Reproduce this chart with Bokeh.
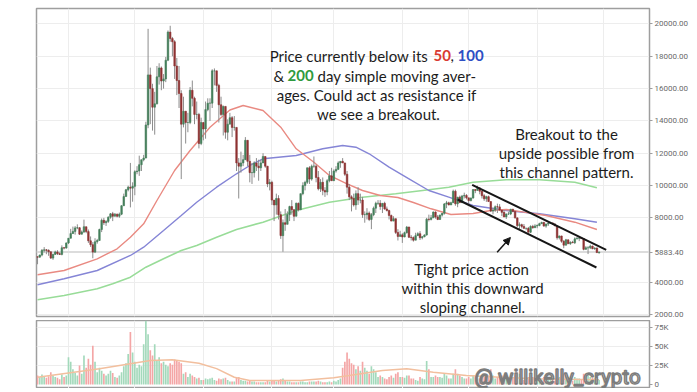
import pandas as pd
from bokeh.plotting import figure
from bokeh.layouts import column
from bokeh.models import (Range1d, FixedTicker, NumeralTickFormatter, Label, Span,
                          Arrow, NormalHead, ColumnDataSource)
from bokeh.embed import file_html
from bokeh.resources import INLINE

# ---------------- data (COINBASE:BTCUSD, 1D) ----------------
dates = pd.date_range("2017-10-18", "2018-06-29", freq="D")

opens = [
    5590,5570,5700,5990,6020,5990,5900,5510,5740,5890,5780,5740,6150,6130,
    6450,6740,7030,7160,7380,7390,6990,7130,7450,7150,6580,6340,5880,6520,6600,7280,7850,7700,7780,8040,8250,8100,8230,8100,8230,8750,9320,9740,9900,9840,
    9950,10860,10900,11290,11600,11700,13750,16850,16000,14850,15060,16730,17280,16470,16600,17760,19500,19100,18900,17400,16500,15700,13800,14600,13900,13900,15900,15400,14400,14400,12600,
    13900,13500,14700,15100,15100,17100,17100,16200,15000,14400,14900,13300,13800,14200,13600,13600,11400,11200,11400,11600,12800,11500,10800,10800,11400,11200,11100,11400,11800,11200,10100,
    10200,9100,8800,9200,8200,6900,7700,7600,8200,8700,8500,8100,8900,8500,9500,10000,10200,11100,10400,11200,11200,10500,9800,10200,9700,9600,10300,10600,
    10300,10900,11000,11400,11500,11400,10700,9900,9300,9200,8800,9500,9100,9100,8200,8200,8300,7900,8200,8600,8900,8900,8700,8900,8550,8450,8150,7800,7950,7100,6850,
    6950,6820,7080,7430,6800,6780,6620,6900,7020,6770,6830,6940,7920,7900,8000,8360,8060,7900,8170,8280,8860,8930,8800,8940,9650,8870,9280,8940,9350,9390,
    9240,9070,9230,9750,9700,9850,9650,9370,9180,9310,9010,8420,8480,8690,8680,8480,8340,8060,8240,8240,8530,8400,8000,7520,7580,7470,7350,7350,7110,7470,7390,
    7500,7530,7640,7720,7490,7620,7660,7690,7620,7500,6770,6880,6550,6310,6640,6400,6490,6460,6700,6740,6760,6720,6050,6150,6150,6250,6090,6130,5836.25,
]
highs = [
    5610,5720,6070,6190,6070,6050,5910,5780,5970,6000,5870,6300,6200,6470,
    6750,7320,7460,7490,7600,7420,7220,7890,7450,7280,6850,6500,6740,6700,7330,7960,8000,7850,8100,8300,8370,8300,8260,8330,8780,9500,9790,9990,11400,10200,
    10950,11200,11850,11600,11900,13950,19700,17300,16300,15800,17400,17570,17370,16900,17960,19600,19890,19200,19000,17900,17400,15900,15500,14600,14500,16100,16500,15500,15200,14500,14200,
    13900,15200,15400,15400,17200,17250,17100,16300,15500,14950,14900,14100,14500,14300,14300,13600,11700,12100,11900,13000,12800,11900,11400,11500,11700,11600,11600,12000,11800,11200,10400,
    10300,9100,9500,9400,8400,7900,8550,8400,8750,9100,8550,8950,8950,9500,10200,10300,11100,11200,11300,11800,11300,10900,10400,10500,9900,10400,10900,11100,
    11000,11200,11500,11500,11700,11400,10900,10100,9400,9500,9700,9900,9500,9300,8400,8600,8400,8300,8700,9000,9100,9100,8900,9000,8700,8500,8200,8100,7950,7300,7200,
    7050,7150,7500,7450,6930,6850,7080,7110,7180,6880,6980,8000,8200,8180,8400,8400,8180,8200,8300,8920,9050,9000,9000,9750,9750,9300,9380,9420,9560,9470,
    9240,9250,9780,9760,9990,9900,9680,9470,9370,9380,9010,8640,8770,8880,8850,8480,8480,8270,8380,8560,8560,8400,8000,7720,7640,7620,7390,7440,7540,7570,7610,
    7600,7700,7760,7750,7640,7700,7750,7700,7680,7500,6900,6890,6620,6700,6650,6550,6580,6800,6820,6800,6790,6730,6250,6250,6340,6280,6190,6170,5905.74,
]
lows = [
    5130,5540,5620,5860,5750,5650,5460,5400,5710,5700,5700,5680,6050,6100,
    6380,6730,7000,6960,7300,6940,6980,7060,7050,6450,6200,5500,5820,6400,6590,7120,7560,7500,7690,7950,7800,8100,8030,8000,8170,8750,9320,9640,8650,9000,
    9400,10700,10600,10900,11500,11700,13550,13800,13400,13150,15020,16250,15900,16000,16400,17700,18900,18000,16600,15600,14800,10400,13600,12600,13300,13800,14900,13800,14100,12300,12500,
    12800,12900,14600,14000,14800,16200,15800,13900,14300,13100,12900,12800,13800,13000,13400,10900,9200,10800,11200,11600,11200,10200,10100,10500,10900,10300,10900,11400,11100,9900,9700,
    8800,7800,8200,7900,6700,5900,7200,7600,7800,8200,7800,8100,8400,8500,9400,9700,10100,10100,10300,11100,10200,9700,9600,9400,9300,9400,10200,10300,
    10300,10800,11000,11100,11400,10600,9500,9100,8400,8700,8500,8800,8900,8000,7700,7900,7800,7300,8100,8300,8800,8500,8300,8500,8400,7900,7800,7800,7000,6600,6850,
    6450,6800,7030,6750,6600,6530,6620,6900,6630,6670,6800,6900,7780,7840,8000,7950,7860,7880,8080,8200,8600,8780,8800,8930,8750,8660,8930,8920,9200,9140,
    8840,9020,9190,9530,9700,9460,9200,9050,8990,8990,8360,8220,8370,8300,8450,8110,8050,7930,8180,8170,8340,7960,7430,7270,7350,7320,7240,7100,7060,7330,7380,
    7360,7480,7640,7460,7390,7500,7640,7560,7500,6650,6660,6460,6120,6300,6400,6330,6440,6380,6670,6560,6690,5990,6030,5760,6070,6060,6020,5830,5790.01,
]
closes = [
    5570,5700,5990,6020,5990,5900,5510,5740,5890,5780,5740,6150,6130,6450,
    6740,7030,7160,7380,7390,6990,7130,7450,7150,6580,6340,5880,6520,6600,7280,7850,7700,7780,8040,8250,8100,8230,8100,8230,8750,9320,9740,9900,9840,9950,
    10860,10900,11290,11600,11700,13750,16850,16000,14850,15060,16730,17280,16470,16600,17760,19500,19100,18900,17400,16500,15700,13800,14600,13900,13900,15900,15400,14400,14400,12600,13900,
    13500,14700,15100,15100,17100,17100,16200,15000,14400,14900,13300,13800,14200,13600,13600,11400,11200,11400,11600,12800,11500,10800,10800,11400,11200,11100,11400,11800,11200,10100,10200,
    9100,8800,9200,8200,6900,7700,7600,8200,8700,8500,8100,8900,8500,9500,10000,10200,11100,10400,11200,11200,10500,9800,10200,9700,9600,10300,10600,10300,
    10900,11000,11400,11500,11400,10700,9900,9300,9200,8800,9500,9100,9100,8200,8200,8300,7900,8200,8600,8900,8900,8700,8900,8550,8450,8150,7800,7950,7100,6850,6950,
    6820,7080,7430,6800,6780,6620,6900,7020,6770,6830,6940,7920,7900,8000,8360,8060,7900,8170,8280,8860,8930,8800,8940,9650,8870,9280,8940,9350,9390,9240,
    9070,9230,9750,9700,9850,9650,9370,9180,9310,9010,8420,8480,8690,8680,8480,8340,8060,8240,8240,8530,8400,8000,7520,7580,7470,7350,7350,7110,7470,7390,7500,
    7530,7640,7720,7490,7620,7660,7690,7620,7500,6770,6880,6550,6310,6640,6400,6490,6460,6700,6740,6760,6720,6050,6150,6150,6250,6090,6130,5850,5883.40,
]
# daily volume, thousands of BTC
volume_k = [
    12,10,13,11,9,11,16,12,10,9,7,13,10,12,
    36,30,20,15,12,25,14,38,22,34,26,51,30,16,22,18,14,12,14,18,15,10,9,12,16,24,28,40,69,42,
    30,22,26,24,53,84,66,45,38,53,32,36,28,30,26,24,28,26,33,31,30,28,14,16,10,14,12,10,8,9,6,
    6,8,7,8,9,6,5,8,7,8,9,6,4,4,4,9,10,6,5,5,4,5,4,4,3,3,3,3,3,5,4,
    6,5,4,5,7,8,5,4,4,3,3,3,3,4,4,3,3,4,4,4,4,5,4,3,3,3,4,3,
    5,4,6,8,22,30,42,34,28,26,20,24,18,30,22,18,14,24,20,16,10,12,10,8,7,10,12,9,14,16,10,
    10,9,12,12,8,8,6,5,10,8,7,31,20,10,10,12,10,10,9,14,12,8,8,14,20,14,12,10,8,8,
    10,8,12,10,8,8,12,12,10,12,20,12,8,10,10,12,10,10,6,8,10,12,16,14,8,6,5,10,10,10,9,
    8,6,6,10,8,8,8,6,5,16,10,12,14,12,10,6,5,10,8,8,6,14,10,12,10,9,8,10,6,
]

# simple moving averages
ma50_dates = ["2017-10-18","2017-10-30","2017-11-14","2017-11-23","2017-11-29","2017-12-05","2017-12-11",
              "2017-12-19","2017-12-26","2018-01-04","2018-01-13","2018-01-19","2018-01-28","2018-02-05",
              "2018-02-12","2018-02-20","2018-02-27","2018-03-07","2018-03-14","2018-03-22","2018-03-30",
              "2018-04-06","2018-04-14","2018-04-23","2018-05-03","2018-05-11","2018-05-18","2018-05-26",
              "2018-06-05","2018-06-18","2018-06-28"]
ma50_values = [4476,4743,5467,6086,6804,7633,9075,10932,12170,13612,14677,14955,14646,13612,
               12275,11446,10623,10109,9694,9385,9261,8951,8562,8209,8271,8456,8519,8352,8147,7732,7280]
ma100_dates = ["2017-10-18","2017-10-30","2017-11-14","2017-11-29","2017-12-05","2017-12-14","2017-12-22",
               "2017-12-29","2018-01-07","2018-01-16","2018-01-22","2018-01-28","2018-02-12","2018-02-24",
               "2018-03-05","2018-03-11","2018-03-17","2018-03-26","2018-04-04","2018-04-13","2018-04-22",
               "2018-05-03","2018-05-18","2018-06-02","2018-06-18","2018-06-28"]
ma100_values = [3857,4229,4743,5672,6185,7219,8147,8970,9898,10728,11242,11657,11861,12276,
                12480,12375,11966,11136,10418,9694,9280,8766,8456,8252,7942,7732]
ma200_dates = ["2017-10-18","2017-10-30","2017-11-14","2017-11-21","2017-11-29","2017-12-06","2017-12-14",
               "2017-12-22","2017-12-29","2018-01-07","2018-01-16","2018-01-28","2018-02-12","2018-02-27",
               "2018-03-14","2018-03-29","2018-04-13","2018-04-22","2018-05-03","2018-05-18","2018-06-02",
               "2018-06-18","2018-06-28"]
ma200_values = [2929,3195,3610,3919,4328,4947,5467,5981,6291,6804,7280,7732,8456,8970,
                9280,9490,9738,9899,10208,10357,10357,10208,9861]
vol_ma_dates = ["2017-10-18","2017-11-15","2017-12-08","2017-12-18","2017-12-30","2018-01-07","2018-01-15",
                "2018-01-22","2018-02-14","2018-03-01","2018-03-08","2018-03-23","2018-04-03","2018-04-15",
                "2018-04-30","2018-05-30","2018-06-29"]
vol_ma_values = [9.6,20.6,31.6,32.5,28,20.9,9.6,5.3,5.3,8.8,11.8,18.4,20.7,16.2,11.8,7.5,6.2]

# channel trend lines and arrow (date, price)
chan_upper_dates = ["2018-05-02 14:00", "2018-07-02 05:00"]
chan_upper_prices = [10047, 6023]
chan_lower_dates = ["2018-04-26 00:00", "2018-06-27 19:00"]
chan_lower_prices = [9137, 4928]
arrow_dates = ["2018-05-13 21:00", "2018-05-19 21:00"]
arrow_prices = [5867, 6785]

price_ticks = [2000, 4000, 8000, 10000, 12000, 14000, 16000, 18000, 20000]
vol_ticks = [0, 25, 50, 75]
month_starts = ["2017-11-01","2017-12-01","2018-01-01","2018-02-01","2018-03-01",
                "2018-04-01","2018-05-01","2018-06-01","2018-07-01"]

# ---------------- layout / style ----------------
BL, FW = 36, 613           # left border, frame width
TOP, PH, PB = 8, 308, 4    # top border, price frame height, price bottom border
VH = 68                    # volume frame height
P_LO, P_HI = 1895, 20959
V_LO, V_HI = -5.26, 84.21
x_start = pd.Timestamp("2017-10-17 12:43")
x_end = pd.Timestamp("2018-07-21 19:00")
DAY = 86400000

UP, DOWN, WICK = "#447f5b", "#8f3333", "#8c8c8c"
VUP, VDOWN = "#a3d9bb", "#f4a6a6"
GRID = "#ededed"
FRAME = "#9e9e9e"
FONT = "Lato"
TXT = "#1c1c1c"


def ms(t):
    return pd.Timestamp(t).timestamp() * 1000.0


def px_x(px):  # canvas pixel -> x data (ms)
    return ms(x_start) + (px - BL) / FW * (ms(x_end) - ms(x_start))


def py_price(py):  # canvas pixel -> price
    return P_HI - (py - TOP) / PH * (P_HI - P_LO)


def py_vol(py):
    return V_HI - (py - TOP - PH - PB) / VH * (V_HI - V_LO)


def style_axis(ax):
    ax.major_label_text_font = "Roboto"
    ax.major_label_text_font_size = "8px"
    ax.major_label_text_color = "#6a6a6a"
    ax.major_tick_out = 3
    ax.major_tick_in = 0
    ax.major_label_standoff = 2
    ax.minor_tick_line_color = None
    ax.axis_line_color = FRAME
    ax.major_tick_line_color = FRAME


xr = Range1d(x_start, x_end)

p = figure(frame_width=FW, frame_height=PH, x_axis_type="datetime", x_axis_location=None,
           y_axis_location="right", x_range=xr, y_range=Range1d(P_LO, P_HI),
           output_backend="svg", toolbar_location=None,
           min_border_left=BL, min_border_right=0, min_border_top=TOP, min_border_bottom=PB)
p.background_fill_color = "white"
p.border_fill_color = "white"
p.outline_line_color = FRAME
p.outline_line_width = 1.5
p.xgrid.ticker = FixedTicker(ticks=[ms(m) for m in month_starts])
p.ygrid.ticker = FixedTicker(ticks=price_ticks)
p.xgrid.grid_line_color = GRID
p.ygrid.grid_line_color = GRID
ax = p.yaxis[0]
ax.ticker = FixedTicker(ticks=price_ticks + [closes[-1]])
ax.formatter = NumeralTickFormatter(format="0.00")
ax.major_label_overrides = {closes[-1]: f"{closes[-1]:.2f}"}
style_axis(ax)

p.add_layout(Span(location=closes[-1], dimension="width", line_color="#dcdcdc",
                  line_width=2, level="underlay"))

src = ColumnDataSource(dict(
    date=dates, open=opens, high=highs, low=lows, close=closes,
    top=[max(o, c) for o, c in zip(opens, closes)],
    bottom=[min(o, c) for o, c in zip(opens, closes)],
    color=[UP if c >= o else DOWN for o, c in zip(opens, closes)],
    vcolor=[VUP if c >= o else VDOWN for o, c in zip(opens, closes)],
    vol=volume_k,
))

p.line(pd.to_datetime(ma200_dates), ma200_values, color="#98dc98", line_width=1.6)
p.line(pd.to_datetime(ma100_dates), ma100_values, color="#8585d6", line_width=1.4)
p.line(pd.to_datetime(ma50_dates), ma50_values, color="#e98a82", line_width=1.4)

p.segment(x0="date", y0="high", x1="date", y1="low", source=src, color=WICK, line_width=1)
p.vbar(x="date", width=0.7 * DAY, top="top", bottom="bottom", source=src,
       fill_color="color", line_color="color", line_width=0.6)

p.line(pd.to_datetime(chan_upper_dates), chan_upper_prices, color="#161616", line_width=2)
p.line(pd.to_datetime(chan_lower_dates), chan_lower_prices, color="#161616", line_width=2)
p.add_layout(Arrow(end=NormalHead(size=7, fill_color="#161616", line_color="#161616"),
                   x_start=ms(arrow_dates[0]), y_start=arrow_prices[0],
                   x_end=ms(arrow_dates[1]), y_end=arrow_prices[1],
                   line_color="#161616", line_width=1.5))

# annotation texts: (text, px, baseline py, align, color, bold)
notes = [
    ("Price currently below its", 428, 55, "right", TXT, False),
    ("50", 433, 55, "left", "#d93a32", True),
    (",", 450, 55, "left", TXT, False),
    ("100", 457, 55, "left", "#2e4fc4", True),
    ("&", 273, 75, "left", TXT, False),
    ("200", 287, 75, "left", "#2f9a3e", True),
    ("day simple moving aver-", 317, 75, "left", TXT, False),
    ("ages. Could act as resistance if", 376, 94, "center", TXT, False),
    ("we see a breakout.", 378, 113, "center", TXT, False),
    ("Breakout to the", 566, 133, "center", TXT, False),
    ("upside possible from", 566, 152, "center", TXT, False),
    ("this channel pattern.", 566, 171, "center", TXT, False),
    ("Tight price action", 471, 268, "center", TXT, False),
    ("within this downward", 472, 287, "center", TXT, False),
    ("sloping channel.", 472, 306, "center", TXT, False),
]
for t, px, py, al, col, bold in notes:
    p.add_layout(Label(x=px_x(px), y=py_price(py), text=t, text_align=al,
                       text_baseline="alphabetic", text_color=col, text_font=FONT,
                       text_font_size="15px",
                       text_font_style="bold" if bold else "normal"))

# ---------------- volume panel ----------------
v = figure(frame_width=FW, frame_height=VH, x_axis_type="datetime", x_axis_location=None,
           y_axis_location="right", x_range=xr, y_range=Range1d(V_LO, V_HI),
           output_backend="svg", toolbar_location=None,
           min_border_left=BL, min_border_right=0, min_border_top=0, min_border_bottom=0)
v.background_fill_color = "white"
v.border_fill_color = "white"
v.outline_line_color = FRAME
v.outline_line_width = 1.5
v.xgrid.ticker = FixedTicker(ticks=[ms(m) for m in month_starts])
v.ygrid.ticker = FixedTicker(ticks=vol_ticks[1:])
v.xgrid.grid_line_color = GRID
v.ygrid.grid_line_color = GRID
vax = v.yaxis[0]
vax.ticker = FixedTicker(ticks=vol_ticks)
vax.major_label_overrides = {t: (f"{t}K" if t else "0") for t in vol_ticks}
style_axis(vax)

v.vbar(x="date", width=0.75 * DAY, top="vol", bottom=0, source=src,
       fill_color="vcolor", line_color=None)
v.line(pd.to_datetime(vol_ma_dates), vol_ma_values, color="#f2bf9e", line_width=1.5)

wm_kwargs = dict(x=px_x(474), y=py_vol(376), text="@ willikelly_crypto",
                 text_align="left", text_baseline="alphabetic", text_color="white",
                 text_font="Roboto", text_font_size="20.5px")
try:
    wm = Label(text_outline_color="#7d7d7d", **wm_kwargs)
except Exception:
    wm_kwargs["text_color"] = "#b8b8b8"
    wm = Label(**wm_kwargs)
v.add_layout(wm)

layout = column(p, v, spacing=0)
open("out.html", "w").write(file_html(layout, INLINE))
